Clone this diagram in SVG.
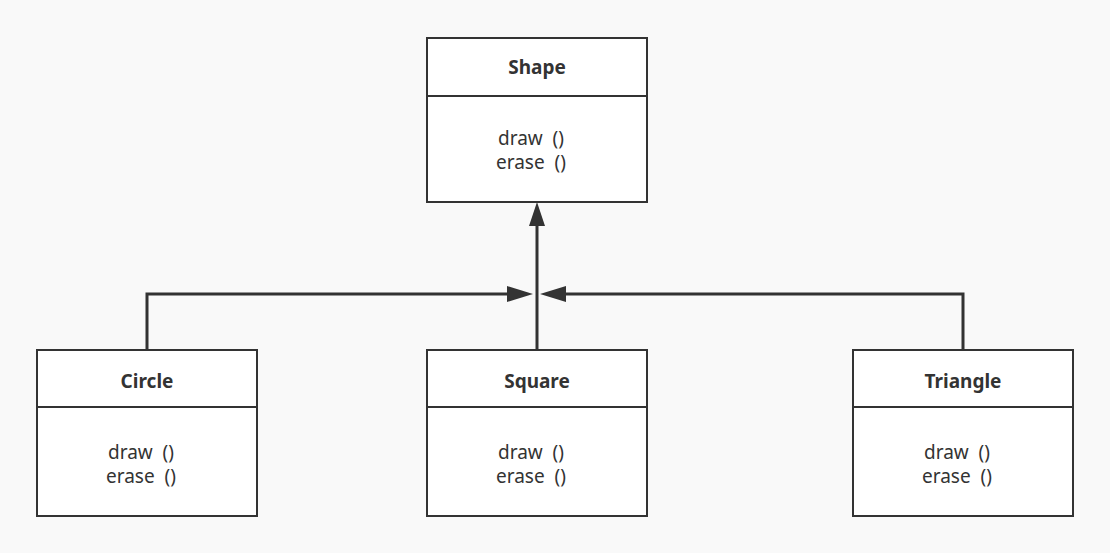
<svg xmlns="http://www.w3.org/2000/svg" width="1110" height="553" viewBox="0 0 1110 553">
<style>
.box{fill:#fff;stroke:#333;stroke-width:2}
.t{font-family:"Microsoft YaHei","Noto Sans","Open Sans",sans-serif;font-size:19px;fill:#333;text-anchor:middle;white-space:pre}
.b{font-weight:bold}
.c{fill:none;stroke:#333;stroke-width:3}
.h{fill:#333}
</style>
<rect width="1110" height="553" fill="#f9f9f9"/>
<g id="connectors">
<path class="c" d="M537,350V218"/>
<polygon class="h" points="537,202 529,226 545,226"/>
<path class="c" d="M147,350V294H512"/>
<polygon class="h" points="533,294 507,286 507,302"/>
<path class="c" d="M963,350V294H560"/>
<polygon class="h" points="540,294 566,286 566,302"/>
</g>
<g id="shape"><rect class="box" x="427" y="38" width="220" height="164"/><line class="box" x1="427" y1="96" x2="647" y2="96"/>
<text class="t b" x="537" y="74">Shape</text><text class="t" x="531" y="145" xml:space="preserve">draw  ()</text><text class="t" x="531" y="169" xml:space="preserve">erase  ()</text></g>
<g id="circle"><rect class="box" x="37" y="350" width="220" height="166"/><line class="box" x1="37" y1="407" x2="257" y2="407"/>
<text class="t b" x="147" y="388">Circle</text><text class="t" x="141" y="459" xml:space="preserve">draw  ()</text><text class="t" x="141" y="483" xml:space="preserve">erase  ()</text></g>
<g id="square"><rect class="box" x="427" y="350" width="220" height="166"/><line class="box" x1="427" y1="407" x2="647" y2="407"/>
<text class="t b" x="537" y="388">Square</text><text class="t" x="531" y="459" xml:space="preserve">draw  ()</text><text class="t" x="531" y="483" xml:space="preserve">erase  ()</text></g>
<g id="triangle"><rect class="box" x="853" y="350" width="220" height="166"/><line class="box" x1="853" y1="407" x2="1073" y2="407"/>
<text class="t b" x="963" y="388">Triangle</text><text class="t" x="957" y="459" xml:space="preserve">draw  ()</text><text class="t" x="957" y="483" xml:space="preserve">erase  ()</text></g>
</svg>
